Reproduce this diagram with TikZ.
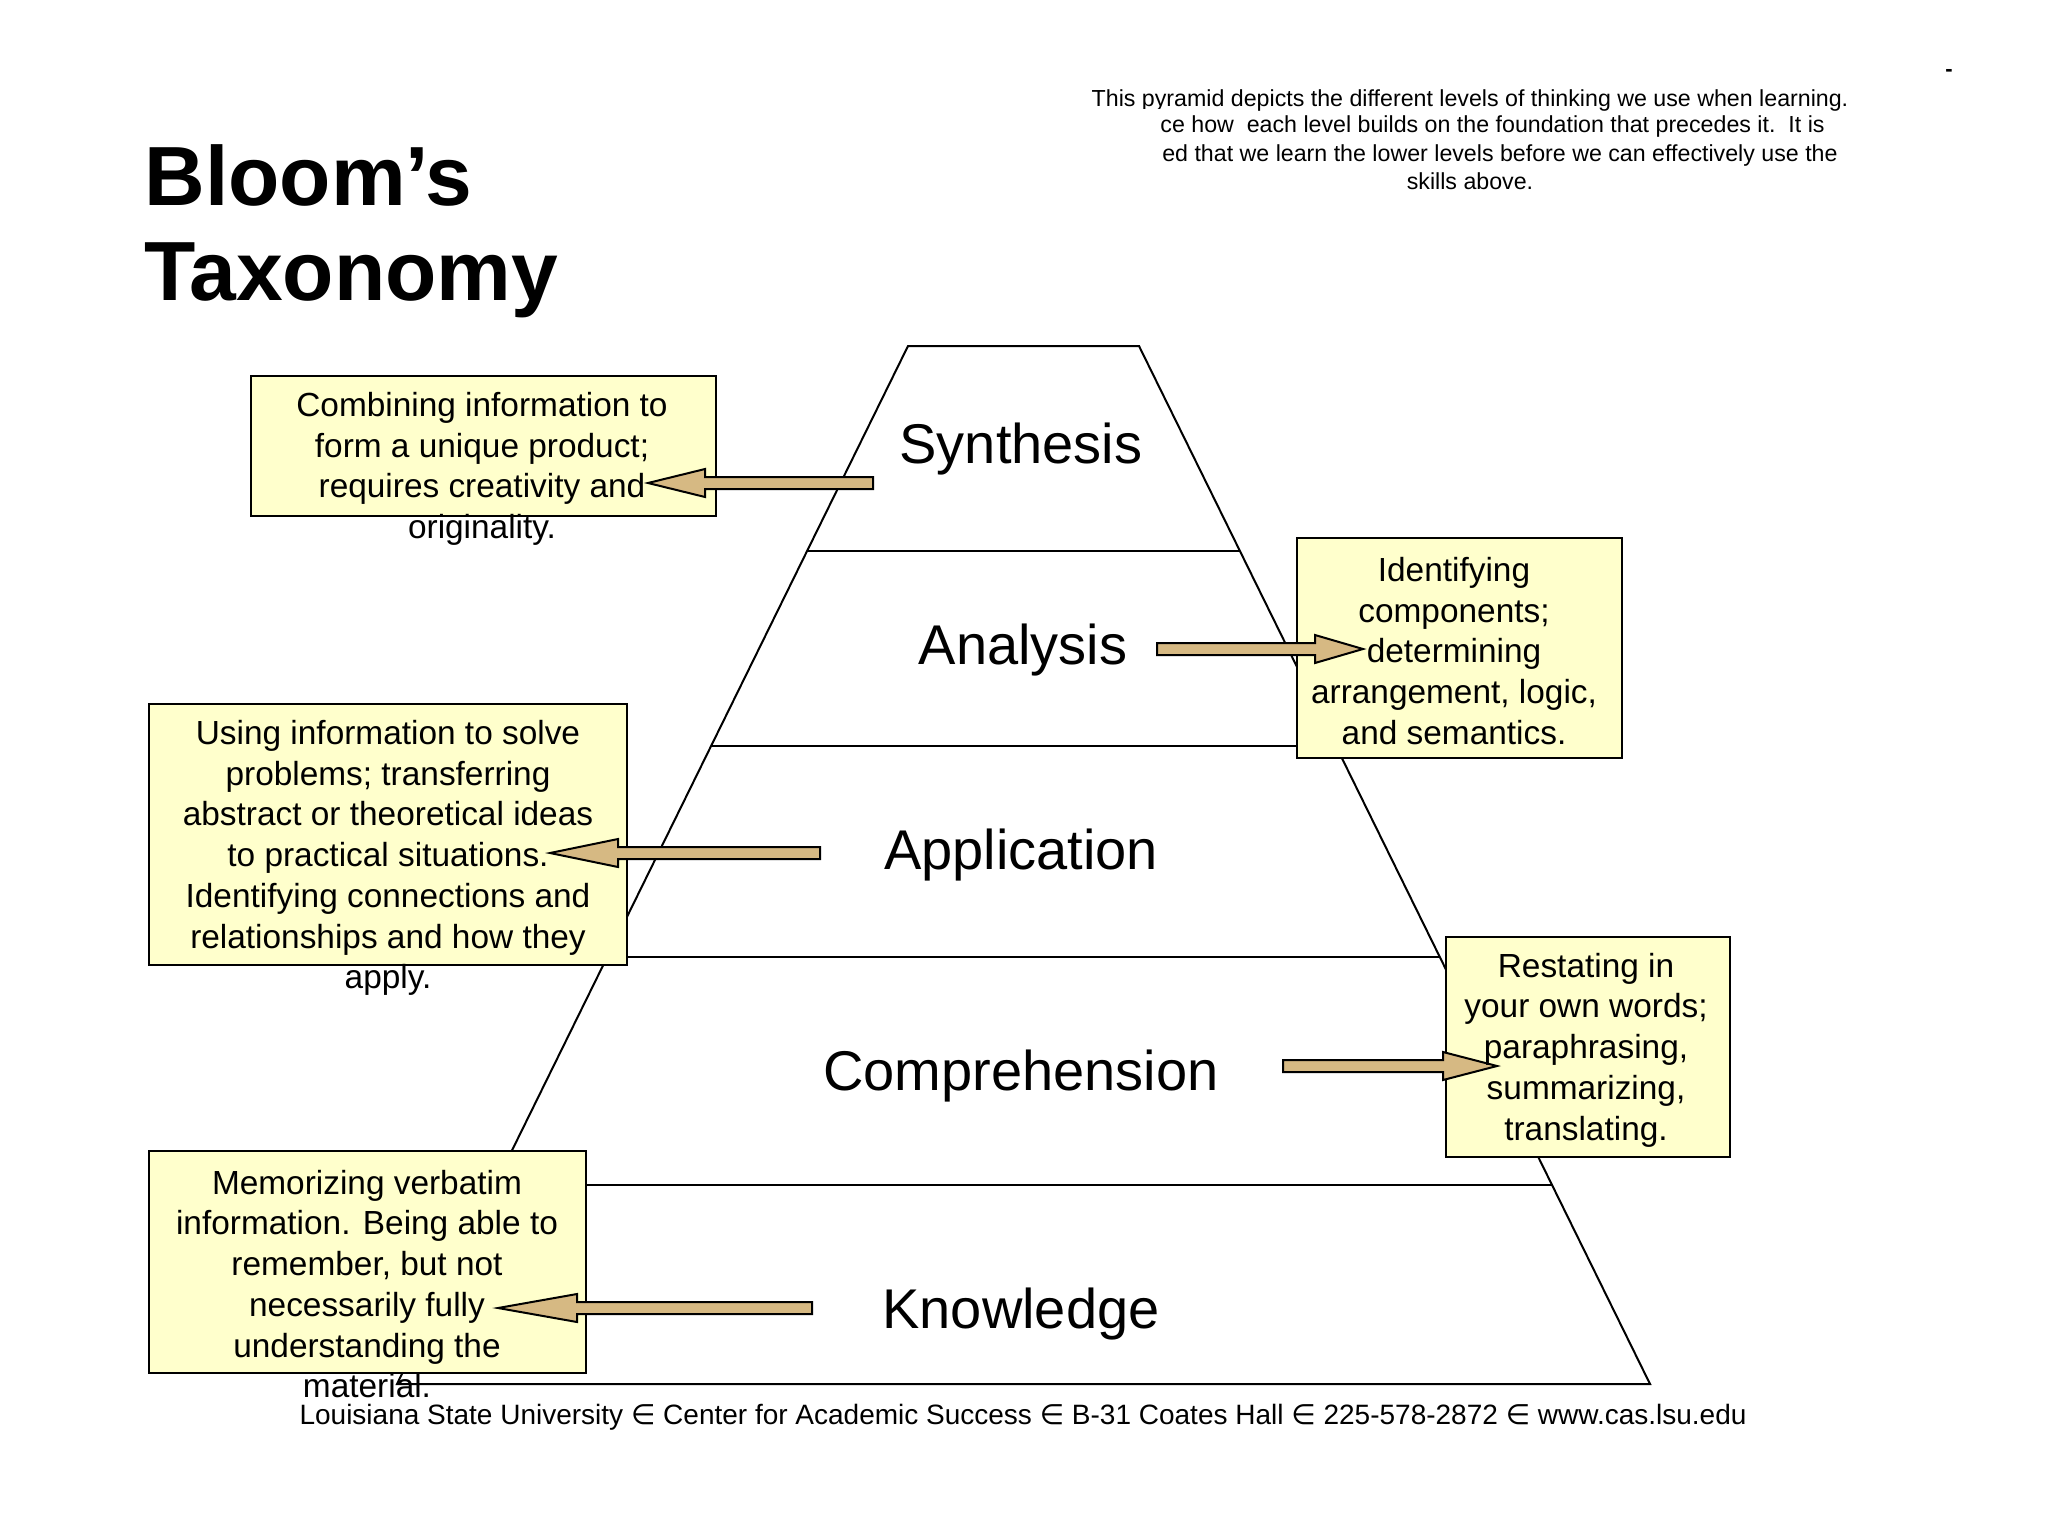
\documentclass[tikz,border=0pt]{standalone}
\usepackage{fontspec}
\setmainfont{Liberation Sans}
\newfontfamily\symfnt{DejaVu Sans}
\usetikzlibrary{calc}
\definecolor{boxfill}{HTML}{FFFFCC}
\definecolor{arrowfill}{HTML}{D6B983}
\newcommand{\blockarrowL}[3]{%
  \draw[blockarrow] (#1) -- ($(#1)+(#3,-14)$) -- ($(#1)+(#3,-6)$) -- ($(#2)+(0,-6)$)
    -- ($(#2)+(0,6)$) -- ($(#1)+(#3,6)$) -- ($(#1)+(#3,14)$) -- cycle;}
\begin{document}
\begin{tikzpicture}[x=0.5pt,y=-0.5pt,
  pyr/.style={line width=1pt, black},
  infobox/.style={draw=black, line width=1.2pt, fill=boxfill, inner sep=0pt, outer sep=0pt},
  infotext/.style={align=center, font=\fontsize{16.7}{20.35}\selectfont, inner sep=0pt},
  level/.style={font=\fontsize{28}{32}\selectfont, inner sep=0pt},
  titletext/.style={font=\fontsize{42}{47}\selectfont\bfseries, inner sep=0pt, anchor=base west},
  desc/.style={font=\fontsize{11.6}{13.9}\selectfont, inner sep=0pt},
  blockarrow/.style={draw=black, line width=1pt, fill=arrowfill, line join=miter},
]
\useasboundingbox[fill=white] (0,0) rectangle (2048,1536);

% pyramid
\coordinate (pTL) at (908,346);
\coordinate (pTR) at (1139,346);
\coordinate (pBL) at (397,1384);
\coordinate (pBR) at (1650,1384);
\draw[pyr] (pBL) -- (pTL) -- (pTR) -- (pBR) -- cycle;
\foreach \t in {0.1975,0.3854,0.5886,0.8083}{
  \draw[pyr] ($(pTL)!\t!(pBL)$) -- ($(pTR)!\t!(pBR)$);
}

% boxes
\node[infobox, minimum width=232.5pt, minimum height=70pt] (b1) at (483.5,446) {};
\node[infobox, minimum width=162.5pt, minimum height=110pt] (b2) at (1459.5,648) {};
\node[infobox, minimum width=239pt, minimum height=130.5pt] (b3) at (388,834.5) {};
\node[infobox, minimum width=142pt, minimum height=110pt] (b4) at (1588,1047) {};
\node[infobox, minimum width=218.5pt, minimum height=111pt] (b5) at (367.5,1262) {};

% arrows
\coordinate (a1tip) at (648,483);  \coordinate (a1tail) at (873,483);
\coordinate (a2tip) at (1363,649); \coordinate (a2tail) at (1157,649);
\coordinate (a3tip) at (550,853);  \coordinate (a3tail) at (820,853);
\coordinate (a4tip) at (1497,1066); \coordinate (a4tail) at (1283,1066);
\coordinate (a5tip) at (498,1308); \coordinate (a5tail) at (812,1308);
\blockarrowL{a1tip}{a1tail}{57}
\blockarrowL{a2tip}{a2tail}{-48}
\blockarrowL{a3tip}{a3tail}{68}
\blockarrowL{a4tip}{a4tail}{-54}
\blockarrowL{a5tip}{a5tail}{79}

% level labels
\node[level] (lv1) at (1021,449) {Synthesis};
\node[level] (lv2) at (1023,650) {Analysis};
\node[level] (lv3) at (1021,855) {Application};
\node[level] (lv4) at (1021,1076) {Comprehension};
\node[level] (lv5) at (1021,1314) {Knowledge};

% box texts
\node[infotext] (t1) at (482,469) {Combining information to\\form a unique product;\\requires creativity and\\originality.};
\node[infotext] (t2) at (1454,651) {Identifying\\components;\\determining\\arrangement, logic,\\and semantics.};
\node[infotext] (t3) at (388,858) {Using information to solve\\problems; transferring\\abstract or theoretical ideas\\to practical situations.\\Identifying connections and\\relationships and how they\\apply.};
\node[infotext] (t4) at (1586,1050) {Restating in\\your own words;\\paraphrasing,\\summarizing,\\translating.};
\node[infotext] (t5) at (367,1284) {Memorizing verbatim\\information. Being able to\\remember, but not\\necessarily fully\\understanding the\\material.};

% title
\node[titletext] (title1) at (144,205) {Bloom’s};
\node[titletext] (title2) at (144,300) {Taxonomy};

% description
\node[desc, anchor=base] (d1) at (1470,106) {This pyramid depicts the different levels of thinking we use when learning.};
\node[desc, anchor=base east] (d2) at (1825,133) {ce how\ \ each level builds on the foundation that precedes it.\ \ It is};
\node[desc, anchor=base east] (d3) at (1838,161) {ed that we learn the lower levels before we can effectively use the};
\node[desc, anchor=base] (d4) at (1470,189) {skills above.};
\fill[white] (1060,109) rectangle (1160,200);
\node[desc, font=\fontsize{11}{13}\selectfont\bfseries] (dash) at (1949,73) {-};

% footer
\node[font=\fontsize{14}{16}\selectfont, inner sep=0pt, anchor=base] (foot) at (1023,1424)
  {Louisiana State University {\symfnt ∈} Center for Academic Success {\symfnt ∈} B-31 Coates Hall {\symfnt ∈} 225-578-2872 {\symfnt ∈} www.cas.lsu.edu};
\end{tikzpicture}
\end{document}
